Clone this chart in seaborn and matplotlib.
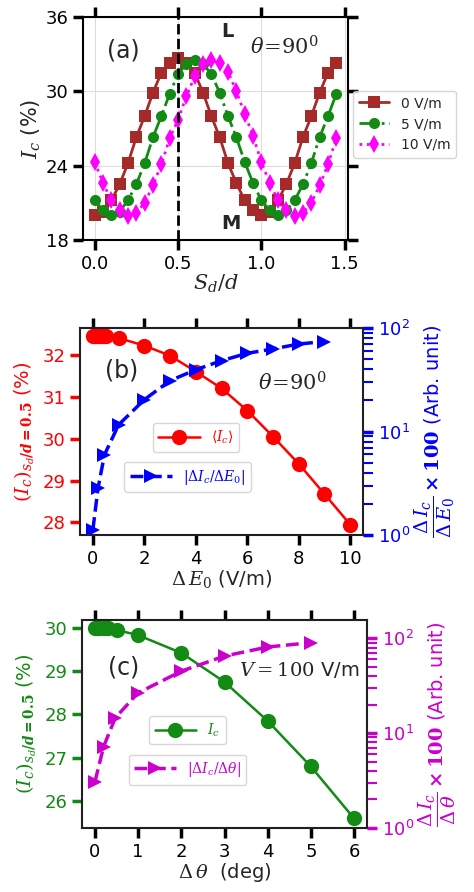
import numpy as np
import matplotlib
matplotlib.use("Agg")
import matplotlib.pyplot as plt
import seaborn as sns
import pandas as pd

sns.set_theme(style="white")
plt.rcParams['font.family'] = ['DejaVu Sans']
plt.rcParams['mathtext.fontset'] = 'dejavuserif'

# ---- data ----
sd = [round(0.05*i, 2) for i in range(30)]
ic_0 = [20.0,20.3,21.2,22.5,24.2,26.3,28.0,29.9,31.5,32.3,32.7,32.3,31.5,29.9,28.0,26.3,24.2,22.6,21.2,20.4,
        20.0,20.3,21.2,22.5,24.2,26.3,28.0,29.9,31.5,32.3]
ic_5 = [21.2,20.4,20.0,20.3,21.2,22.5,24.2,26.3,28.0,29.8,31.4,32.2,32.5,32.2,31.4,29.9,28.0,26.3,24.3,22.6,
        21.2,20.4,20.0,20.4,21.2,22.5,24.2,26.3,28.0,29.8]
ic_10 = [24.3,22.6,21.2,20.4,19.9,20.2,21.0,22.4,24.1,26.2,27.7,29.6,31.2,32.2,32.5,32.3,31.6,30.0,28.2,26.4,
         24.3,22.6,21.2,20.4,19.9,20.2,21.0,22.4,24.1,26.2]

dE = [0,0.1,0.2,0.3,0.4,0.5,1,2,3,4,5,6,7,8,9,10]
ic_b = [32.45,32.45,32.45,32.45,32.45,32.44,32.4,32.22,31.98,31.6,31.2,30.67,30.05,29.4,28.68,27.95]
dE_r = [0,0.2,0.45,1,2,3,4,5,6,7,8,9]
der_b = [1.12,2.83,5.95,11.6,20.3,31,39.5,48.3,57,62.7,70,74]

dth = [0,0.05,0.1,0.2,0.3,0.5,1,2,3,4,5,6]
ic_c = [30.0,30.0,30.0,30.0,29.99,29.95,29.83,29.42,28.75,27.85,26.8,25.6]
dth_r = [0,0.2,0.47,1,2,3,4,5]
der_c = [3.07,7.2,14.5,26.6,45,65,81,90]

W, H = 474, 892
fig = plt.figure(figsize=(W/100, H/100), dpi=100)
def rect(l, r, t, b):
    return [l/W, 1-b/H, (r-l)/W, (b-t)/H]

def style(ax):
    ax.tick_params(direction='out', length=7, width=2.5, labelsize=13, colors='black',
                   top=True, bottom=True, left=True, right=False)
    for s in ax.spines.values():
        s.set_linewidth(1.5); s.set_color('black')

# ---- panel a ----
ax = fig.add_axes(rect(83, 348, 17, 240))
df = pd.DataFrame({'x': sd*3, 'y': ic_0+ic_5+ic_10,
                   's': ['0 V/m']*30+['5 V/m']*30+['10 V/m']*30})
sns.lineplot(data=df[df.s=='0 V/m'], x='x', y='y', color='#a52a2a', marker='s', markersize=8,
             markeredgewidth=0, lw=2, ax=ax, label='0 V/m')
sns.lineplot(data=df[df.s=='5 V/m'], x='x', y='y', color='#138a13', marker='o', markersize=8,
             markeredgewidth=0, lw=2, ls='-.', ax=ax, label='5 V/m')
sns.lineplot(data=df[df.s=='10 V/m'], x='x', y='y', color='#ff00ff', marker='d', markersize=9,
             markeredgewidth=0, lw=2, ls=':', ax=ax, label='10 V/m')
ax.axvline(0.5, color='black', ls='--', lw=2)
ax.set_xlim(-0.07, 1.52); ax.set_ylim(18, 36)
ax.set_xticks([0, 0.5, 1.0, 1.5]); ax.set_yticks([18, 24, 30, 36])
ax.grid(True, color='#dddddd', lw=0.8)
style(ax)
ax.tick_params(right=True)
ax.set_xlabel(r'$S_d/d$', fontsize=15, labelpad=0)
ax.set_ylabel(r'$I_c$ (%)', fontsize=15, labelpad=2)
ax.text(0.09, 0.82, '(a)', transform=ax.transAxes, fontsize=17)
ax.text(0.63, 0.83, r'$\theta\!=\!90^0$', transform=ax.transAxes, fontsize=15)
ax.text(0.52, 0.91, 'L', transform=ax.transAxes, fontsize=14, fontweight='bold')
ax.text(0.52, 0.05, 'M', transform=ax.transAxes, fontsize=14, fontweight='bold')
ax.legend(loc='center left', bbox_to_anchor=(1.02, 0.52), fontsize=10, frameon=True,
          handlelength=2.2, borderaxespad=0)

# ---- panel b ----
ax = fig.add_axes(rect(80, 363, 328, 535))
sns.lineplot(x=dE, y=ic_b, color='red', marker='o', markersize=11, markeredgewidth=0, lw=1.8,
             ax=ax, label=r'$\langle I_c\rangle$')
ax.set_xlim(-0.5, 10.5); ax.set_ylim(27.7, 32.64)
ax.set_xticks(range(0, 11, 2)); ax.set_yticks([28, 29, 30, 31, 32])
style(ax)
ax.tick_params(axis='y', colors='red')
ax.set_xlabel(r'$\Delta\,E_0$ (V/m)', fontsize=14, labelpad=0)
ax.set_ylabel(r'$\left(\boldsymbol{I_c}\right)_{\boldsymbol{s_d/d=0.5}}$ (%)', color='red', fontsize=14)
ax.text(0.09, 0.76, '(b)', transform=ax.transAxes, fontsize=17)
ax.text(0.63, 0.70, r'$\theta\!=\!90^0$', transform=ax.transAxes, fontsize=15)
ax2 = ax.twinx()
sns.lineplot(x=dE_r, y=der_b, color='blue', marker='>', markersize=10, markeredgewidth=0, lw=2.5,
             ls='--', ax=ax2, label=r'$|\Delta I_c/\Delta E_0|$')
ax2.set_yscale('log'); ax2.set_ylim(1, 100)
ax2.tick_params(axis='y', which='major', length=7, width=2.5, colors='blue', labelsize=13)
ax2.tick_params(axis='y', which='minor', length=7, width=1.5, colors='blue')
ax2.set_ylabel(r'$\boldsymbol{\dfrac{\Delta\, I_c}{\Delta\, E_0}\times 100}$ (Arb. unit)',
               color='blue', fontsize=14, labelpad=2)
h1, l1 = ax.get_legend_handles_labels(); h2, l2 = ax2.get_legend_handles_labels()
ax.legend(h1, l1, loc='center', bbox_to_anchor=(0.41, 0.47), fontsize=10, handlelength=3,
          labelcolor='red')
ax2.legend(h2, l2, loc='center', bbox_to_anchor=(0.38, 0.28), fontsize=10, handlelength=3,
           labelcolor='blue')

# ---- panel c ----
ax = fig.add_axes(rect(82, 367, 620, 828))
sns.lineplot(x=dth, y=ic_c, color='#138a13', marker='o', markersize=11, markeredgewidth=0, lw=1.8,
             ax=ax, label=r'$I_c$')
ax.set_xlim(-0.3, 6.3); ax.set_ylim(25.38, 30.18)
ax.set_xticks(range(0, 7)); ax.set_yticks([26, 27, 28, 29, 30])
style(ax)
ax.tick_params(axis='y', colors='#138a13')
ax.set_xlabel(r'$\Delta\,\theta$  (deg)', fontsize=14, labelpad=0)
ax.set_ylabel(r'$\left(\boldsymbol{I_c}\right)_{\boldsymbol{s_d/d=0.5}}$ (%)', color='#138a13', fontsize=14)
ax.text(0.09, 0.74, '(c)', transform=ax.transAxes, fontsize=17)
ax.text(0.55, 0.73, r'$V=100$ V/m', transform=ax.transAxes, fontsize=14)
ax2 = ax.twinx()
sns.lineplot(x=dth_r, y=der_c, color='#cc00cc', marker='>', markersize=10, markeredgewidth=0, lw=2.5,
             ls='--', ax=ax2, label=r'$|\Delta I_c/\Delta\theta|$')
ax2.set_yscale('log'); ax2.set_ylim(1, 156)
ax2.tick_params(axis='y', which='major', length=7, width=2.5, colors='#cc00cc', labelsize=13)
ax2.tick_params(axis='y', which='minor', length=7, width=1.5, colors='#cc00cc')
ax2.set_ylabel(r'$\boldsymbol{\dfrac{\Delta\, I_c}{\Delta\, \theta}\times 100}$ (Arb. unit)',
               color='#cc00cc', fontsize=14, labelpad=2)
h1, l1 = ax.get_legend_handles_labels(); h2, l2 = ax2.get_legend_handles_labels()
ax.legend(h1, l1, loc='center', bbox_to_anchor=(0.37, 0.47), fontsize=10, handlelength=3,
          labelcolor='#138a13')
ax2.legend(h2, l2, loc='center', bbox_to_anchor=(0.37, 0.28), fontsize=10, handlelength=3,
           labelcolor='#cc00cc')

fig.savefig('out.png', dpi=100)
